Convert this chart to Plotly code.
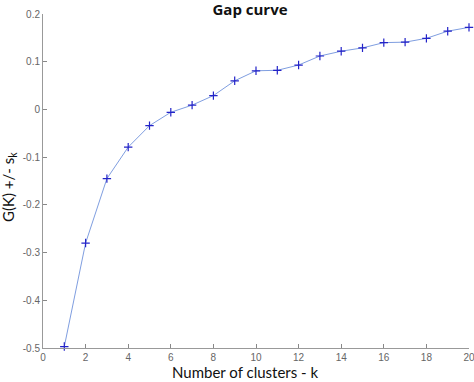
import plotly.graph_objects as go

k_values = list(range(1, 21))
gap_values = [-0.497, -0.280, -0.145, -0.079, -0.034, -0.006, 0.009, 0.029, 0.060, 0.081,
              0.082, 0.093, 0.112, 0.122, 0.129, 0.140, 0.141, 0.149, 0.164, 0.172]
x_ticks = [0, 2, 4, 6, 8, 10, 12, 14, 16, 18, 20]
y_ticks = [-0.5, -0.4, -0.3, -0.2, -0.1, 0, 0.1, 0.2]
y_tick_text = ["-0.5", "-0.4", "-0.3", "-0.2", "-0.1", "0", "0.1", "0.2"]

fig = go.Figure()
fig.add_trace(go.Scatter(
    x=k_values, y=gap_values, mode="lines+markers",
    line=dict(color="#7f9ee0", width=1),
    marker=dict(symbol="cross-thin", size=6, line=dict(color="#2323c8", width=1.2)),
    showlegend=False, cliponaxis=False,
))

fig.update_layout(
    width=474, height=382,
    margin=dict(l=43, r=5, t=14, b=34, autoexpand=False),
    paper_bgcolor="white", plot_bgcolor="white",
    title=dict(text="<b>Gap curve</b>", xref="paper", x=0.486, xanchor="center",
               y=0.975, yanchor="middle",
               font=dict(family="Open Sans, Lato, sans-serif", size=15, color="#111")),
    font=dict(family="Liberation Sans, Arial, sans-serif"),
)
fig.update_xaxes(
    range=[0, 20], tickvals=x_ticks, ticks="inside", ticklen=4, tickcolor="#888",
    showline=True, linecolor="#999", linewidth=1, showgrid=False, zeroline=False,
    tickfont=dict(size=10, color="#666"), automargin=False, ticklabeloverflow="allow",
)
fig.update_yaxes(
    range=[-0.5, 0.2], tickvals=y_ticks, ticktext=y_tick_text, ticks="inside", ticklen=4,
    tickcolor="#888", showline=True, linecolor="#999", linewidth=1, showgrid=False,
    zeroline=False, tickfont=dict(size=10, color="#666"), automargin=False,
)
fig.add_annotation(
    text="Number of clusters - k", xref="x", yref="paper", x=9.5, y=-0.072,
    xanchor="center", yanchor="middle", showarrow=False,
    font=dict(family="Lato, Open Sans, sans-serif", size=15, color="#111"),
)
fig.add_annotation(
    text="G(K) +/- s<sub>k</sub>", xref="paper", yref="paper", x=-0.08, y=0.482,
    xanchor="center", yanchor="middle", textangle=-90, showarrow=False,
    font=dict(family="Lato, Open Sans, sans-serif", size=15, color="#111"),
)

fig.write_html("out.html", config={"displayModeBar": False},
               post_script="document.body.style.margin='0';")
